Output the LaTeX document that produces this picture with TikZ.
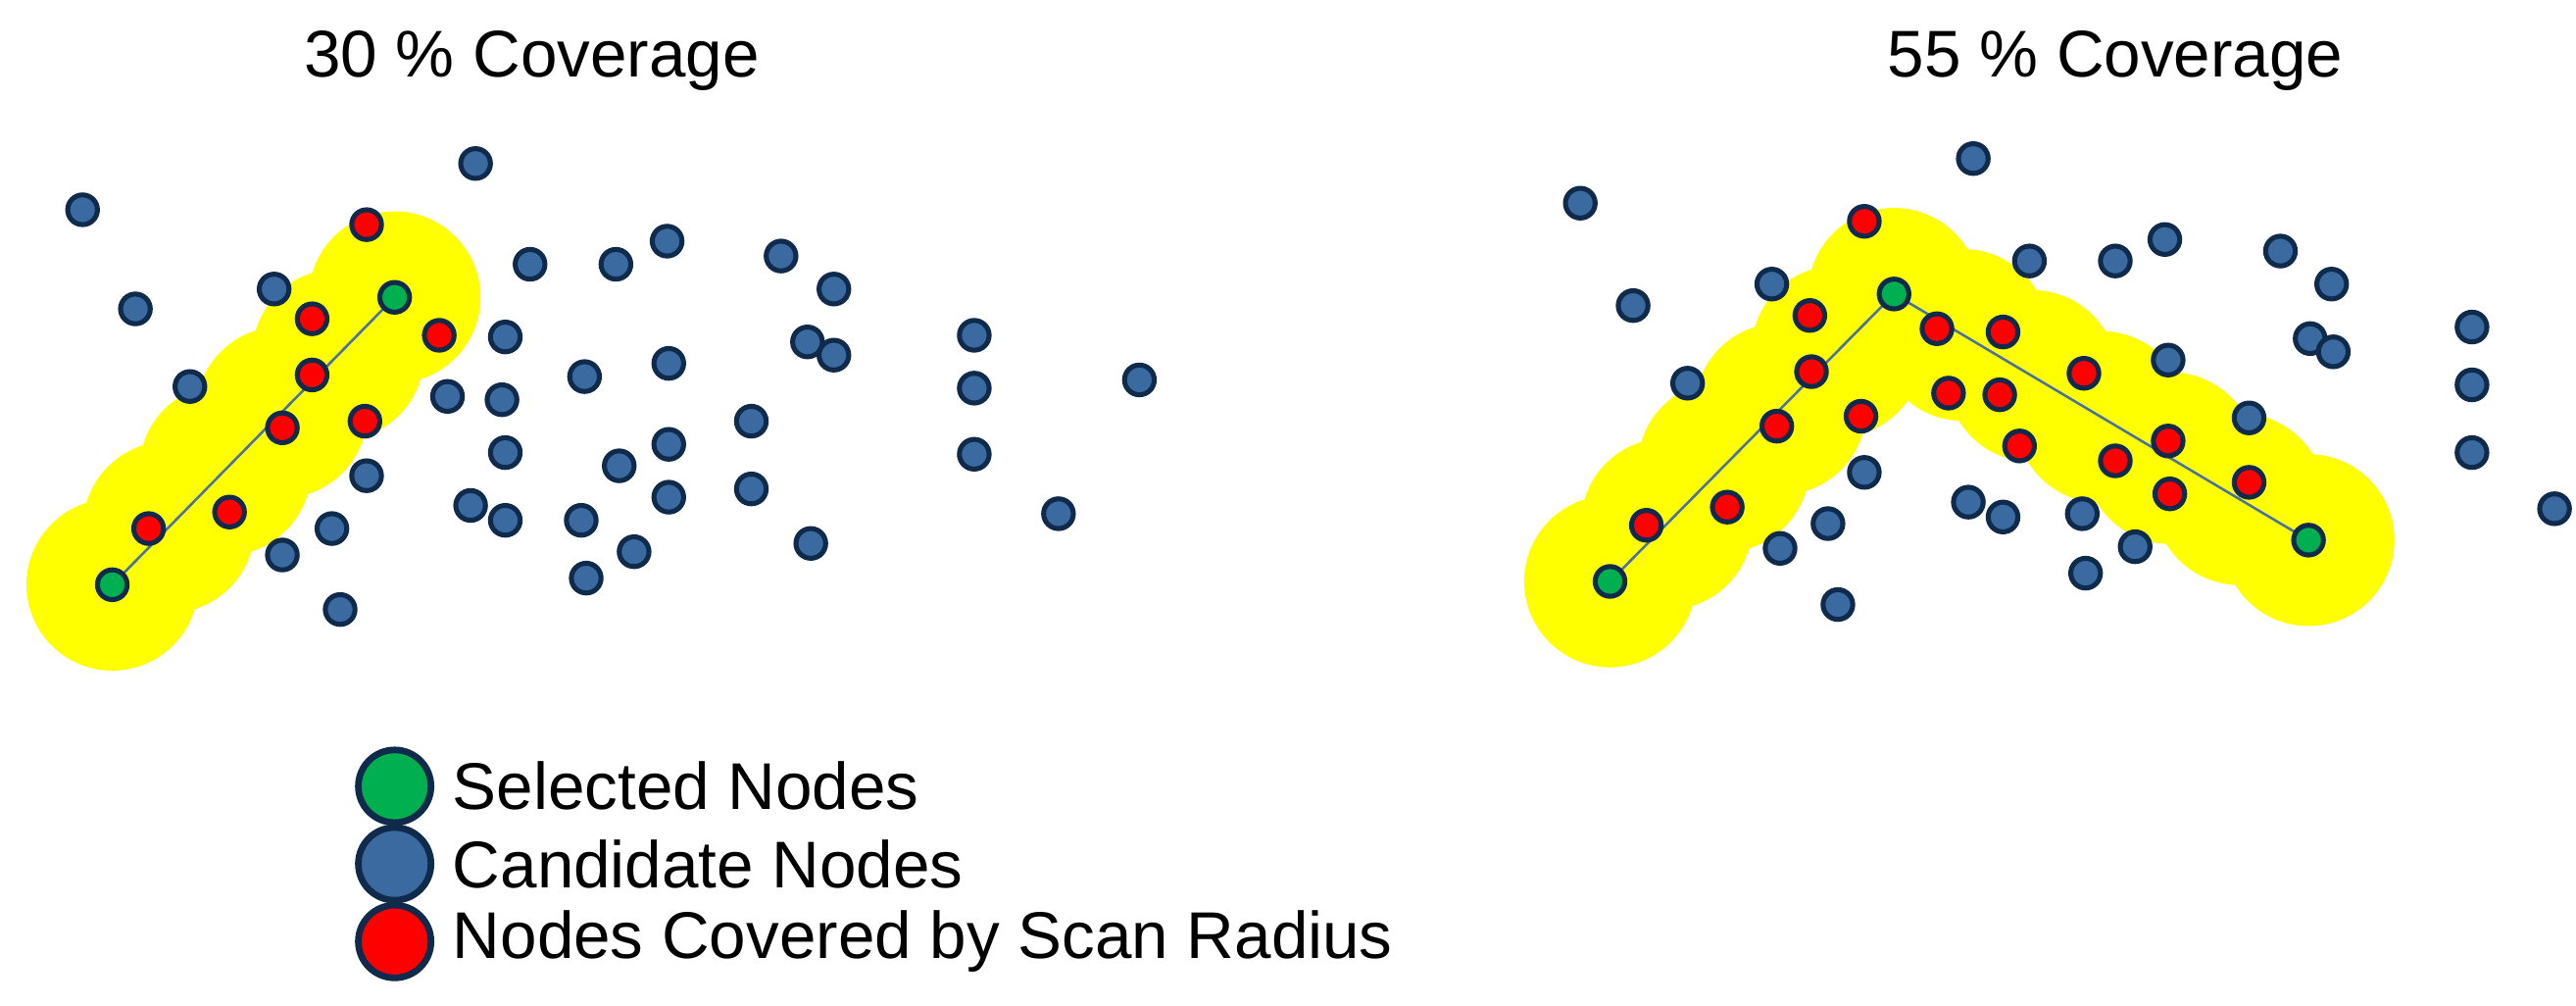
\documentclass[tikz,border=0pt]{standalone}
\usepackage{fontspec}
\setmainfont{Liberation Sans}
\usetikzlibrary{calc}
\definecolor{bord}{HTML}{0F2A4A}
\definecolor{cand}{HTML}{3A6AA0}
\definecolor{selg}{HTML}{00B050}
\definecolor{covr}{HTML}{FF0000}
\definecolor{yel}{HTML}{FFFF00}
\definecolor{lnk}{HTML}{4A72A0}
\tikzset{
 dot/.style={circle,draw=bord,line width=3pt,minimum size=18pt,inner sep=0pt},
 cnd/.style={dot,fill=cand},
 cov/.style={dot,fill=covr},
 sel/.style={dot,fill=selg},
 big/.style={circle,draw=bord,line width=4pt,minimum size=44pt,inner sep=0pt},
 lbl/.style={font=\fontsize{40}{44}\selectfont,anchor=west,inner sep=0pt},
 ttl/.style={font=\fontsize{40}{44}\selectfont,inner sep=0pt},
 lnkline/.style={draw=lnk,line width=1.5pt}
}
\begin{document}
\begin{tikzpicture}[x=1pt,y=-1pt]
\useasboundingbox (0,0) rectangle (1560,609);
\node[ttl] (t1) at (322,37) {30 \% Coverage};
\node[ttl] (t2) at (1281,37) {55 \% Coverage};
% yellow coverage
\foreach \i in {0,...,5}{
 \fill[yel] ($(68,354)!\i/5!(239,180)$) circle (52);
 \fill[yel] ($(975,352)!\i/5!(1147,178)$) circle (52);}
\foreach \i in {0,...,6}{
 \fill[yel] ($(1147,178)!\i/6!(1398,327)$) circle (52);}
% candidate nodes
\foreach \x/\y [count=\k] in {50/127,82/187,115/234,166/175,288/99,321/160,373/160,404/146,473/155,505/175,306/204,271/240,304/242,354/228,405/220,489/207,505/215,590/203,590/235,590/275,690/230,455/255,306/274,375/282,405/269,222/288,285/306,306/315,352/315,405/301,455/296,491/329,641/311,384/334,355/350,201/320,171/336,206/369}
 \node[cnd] (la\k) at (\x,\y) {};
\foreach \x/\y [count=\k] in {957/123,989/185,1022/232,1073/172,1195/96,1229/158,1281/158,1311/145,1381/152,1412/172,1399/205,1413/213,1497/198,1497/233,1497/274,1547/308,1313/218,1362/253,1129/286,1192/304,1213/313,1261/311,1293/331,1263/347,1113/366,1078/332,1107/317}
 \node[cnd] (ra\k) at (\x,\y) {};
% paths
\coordinate (g1) at (68,354); \coordinate (g2) at (239,180);
\coordinate (h1) at (975,352); \coordinate (h2) at (1147,178); \coordinate (h3) at (1398,327);
\draw[lnkline] (g1) -- (g2);
\draw[lnkline] (h1) -- (h2) -- (h3);
% covered
\foreach \x/\y [count=\k] in {222/136,189/193,266/203,189/227,221/255,171/259,139/310,90/320}
 \node[cov] (lc\k) at (\x,\y) {};
\foreach \x/\y [count=\k] in {1129/134,1096/191,1097/225,1173/199,1213/201,1262/226,1180/238,1211/239,1127/252,1076/258,1223/270,1281/279,1313/267,1314/299,1362/292,1046/307,997/318}
 \node[cov] (rc\k) at (\x,\y) {};
% selected
\node[sel] (s1) at (g1) {}; \node[sel] (s2) at (g2) {};
\node[sel] (s3) at (h1) {}; \node[sel] (s4) at (h2) {}; \node[sel] (s5) at (h3) {};
% legend
\node[big,fill=selg] (k1) at (239,476) {};
\node[big,fill=cand] (k2) at (239,523) {};
\node[big,fill=covr] (k3) at (239,570) {};
\node[lbl] (l1) at (274,476) {Selected Nodes};
\node[lbl] (l2) at (274,523) {Candidate Nodes};
\node[lbl] (l3) at (274,570) {Nodes Covered by Scan Radius};
\end{tikzpicture}
\end{document}
